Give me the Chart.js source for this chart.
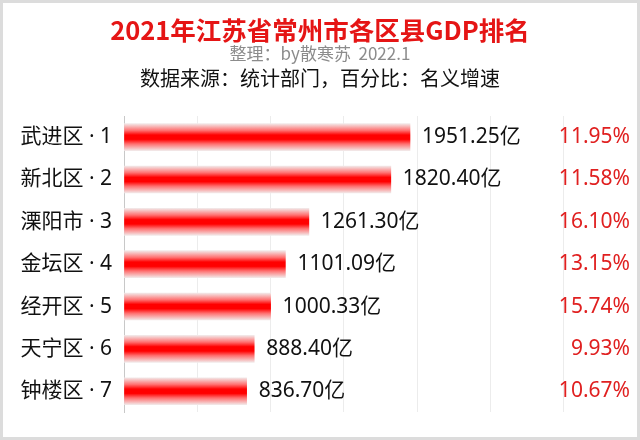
<!DOCTYPE html>
<html>
<head>
<meta charset="utf-8">
<script src="https://cdn.jsdelivr.net/npm/chart.js@4/dist/chart.umd.min.js"></script>
<style>
html,body{margin:0;padding:0;background:#fff;}
#wrap{width:640px;height:440px;box-sizing:border-box;border:3px solid #dcdcdc;background:#fff;}
canvas{display:block;}
</style>
</head>
<body>
<div id="wrap"><canvas id="c" width="634" height="434"></canvas></div>
<script>
const titleText = '2021年江苏省常州市各区县GDP排名';
const subtitleText = '整理：by散寒苏  2022.1';
const noteText = '数据来源：统计部门，百分比：名义增速';
const categories = ['武进区 · 1', '新北区 · 2', '溧阳市 · 3', '金坛区 · 4', '经开区 · 5', '天宁区 · 6', '钟楼区 · 7'];
const gdp = [1951.25, 1820.40, 1261.30, 1101.09, 1000.33, 888.40, 836.70];
const growth = [11.95, 11.58, 16.10, 13.15, 15.74, 9.93, 10.67];

const FONT = '"Noto Sans CJK SC", "Noto Sans", sans-serif';
const LFONT = '"Noto Sans", "Noto Sans CJK SC", sans-serif';
const BAR_H = 27;

const headerPlugin = {
  id: 'header',
  afterDraw(chart) {
    const c = chart.ctx;
    const cx = chart.width / 2;
    c.save();
    c.textAlign = 'center';
    c.textBaseline = 'middle';
    c.fillStyle = '#e51515';
    c.font = 'bold 25.5px ' + FONT;
    c.fillText(titleText, cx, 27);
    c.fillStyle = '#8c8c8c';
    c.font = '17px ' + FONT;
    c.fillText(subtitleText, cx, 51);
    c.fillStyle = '#111';
    c.font = '20px ' + FONT;
    c.fillText(noteText, cx, 75);
    c.restore();
  }
};

const labelPlugin = {
  id: 'barLabels',
  afterDatasetsDraw(chart) {
    const c = chart.ctx;
    const meta = chart.getDatasetMeta(0);
    c.save();
    c.textBaseline = 'middle';
    c.font = '21px ' + LFONT;
    meta.data.forEach((el, i) => {
      c.textAlign = 'left';
      c.fillStyle = '#111';
      c.fillText(gdp[i].toFixed(2) + '亿', el.x + 12, el.y);
      c.textAlign = 'right';
      c.fillStyle = '#e02020';
      c.fillText(growth[i].toFixed(2) + '%', chart.width - 7, el.y);
    });
    c.restore();
  }
};

new Chart(document.getElementById('c'), {
  type: 'bar',
  data: {
    labels: categories,
    datasets: [{
      data: gdp,
      barThickness: BAR_H,
      borderWidth: 0,
      backgroundColor: (ctx) => {
        const chart = ctx.chart;
        if (!chart.chartArea || !chart.scales.y) return '#ff0000';
        const yc = chart.scales.y.getPixelForValue(ctx.dataIndex);
        const g = chart.ctx.createLinearGradient(0, yc - BAR_H / 2, 0, yc + BAR_H / 2);
        g.addColorStop(0, '#f2e8e8');
        g.addColorStop(0.25, '#ff7070');
        g.addColorStop(0.42, '#ff0000');
        g.addColorStop(0.58, '#ff0000');
        g.addColorStop(0.75, '#ff7070');
        g.addColorStop(1, '#f2e8e8');
        return g;
      }
    }]
  },
  options: {
    indexAxis: 'y',
    responsive: false,
    animation: false,
    layout: { padding: { top: 113, bottom: 17, left: 0, right: 0 } },
    plugins: { legend: { display: false }, tooltip: { enabled: false }, title: { display: false } },
    scales: {
      x: {
        min: 0, max: 3500,
        ticks: { display: false, stepSize: 500 },
        grid: { color: '#ececec', drawTicks: false, lineWidth: 1 },
        border: { display: false },
        afterFit(s) { s.height = 0; }
      },
      y: {
        ticks: { color: '#111', font: { size: 21, family: LFONT }, padding: 12 },
        grid: { display: false, drawTicks: false },
        border: { display: true, color: '#c8c8c8', width: 1 },
        afterFit(s) { s.width = 121; }
      }
    }
  },
  plugins: [headerPlugin, labelPlugin]
});
</script>
</body>
</html>
